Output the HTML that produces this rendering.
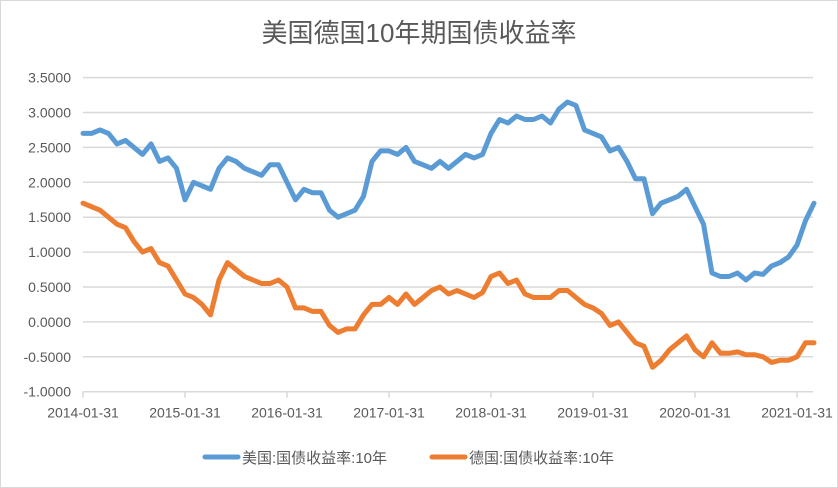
<!DOCTYPE html>
<html><head><meta charset="utf-8">
<style>
body{margin:0;background:#fff;}
svg{display:block;font-family:"Liberation Sans","Noto Sans CJK SC",sans-serif;}
</style></head><body>
<svg id="chart" width="838" height="488" viewBox="0 0 838 488">
<rect x="0.5" y="0.5" width="837" height="487" fill="#fff" stroke="#d9d9d9"/>
<text x="419" y="42" text-anchor="middle" font-size="26" fill="#595959">美国德国10年期国债收益率</text>
<g id="grid"></g><g id="yticks"></g><g id="xticks"></g><g id="series"></g>
<g>
<line x1="205" y1="457" x2="238" y2="457" stroke="#5b9bd5" stroke-width="5" stroke-linecap="round"/>
<text x="242" y="463" font-size="15" fill="#595959">美国:国债收益率:10年</text>
<line x1="432" y1="457" x2="465" y2="457" stroke="#ed7d31" stroke-width="5" stroke-linecap="round"/>
<text x="469" y="463" font-size="15" fill="#595959">德国:国债收益率:10年</text>
</g>
</svg>
<script>
const yTicks=[3.5,3.0,2.5,2.0,1.5,1.0,0.5,0.0,-0.5,-1.0];
const xTickLabels=["2014-01-31","2015-01-31","2016-01-31","2017-01-31","2018-01-31","2019-01-31","2020-01-31","2021-01-31"];
const startYear=2014;
const usYield=[2.7,2.7,2.75,2.7,2.55,2.6,2.5,2.4,2.55,2.3,2.35,2.2,
1.75,2.0,1.95,1.9,2.2,2.35,2.3,2.2,2.15,2.1,2.25,2.25,
2.0,1.75,1.9,1.85,1.85,1.6,1.5,1.55,1.6,1.8,2.3,2.45,
2.45,2.4,2.5,2.3,2.25,2.2,2.3,2.2,2.3,2.4,2.35,2.4,
2.7,2.9,2.85,2.95,2.9,2.9,2.95,2.85,3.05,3.15,3.1,2.75,
2.7,2.65,2.45,2.5,2.3,2.05,2.05,1.55,1.7,1.75,1.8,1.9,
1.65,1.4,0.7,0.65,0.65,0.7,0.6,0.7,0.68,0.8,0.85,0.93,
1.1,1.45,1.7];
const deYield=[1.7,1.65,1.6,1.5,1.4,1.35,1.15,1.0,1.05,0.85,0.8,0.6,
0.4,0.35,0.25,0.1,0.6,0.85,0.75,0.65,0.6,0.55,0.55,0.6,
0.5,0.2,0.2,0.15,0.15,-0.05,-0.15,-0.1,-0.1,0.1,0.25,0.25,
0.35,0.25,0.4,0.25,0.35,0.45,0.5,0.4,0.45,0.4,0.35,0.42,
0.65,0.7,0.55,0.6,0.4,0.35,0.35,0.35,0.45,0.45,0.35,0.25,
0.2,0.12,-0.05,0,-0.15,-0.3,-0.35,-0.65,-0.55,-0.4,-0.3,-0.2,
-0.4,-0.5,-0.3,-0.45,-0.45,-0.43,-0.47,-0.47,-0.5,-0.58,-0.55,-0.55,
-0.5,-0.3,-0.3];
const X0=83,YEARW=102,Y0=391.7,YSTEP=69.8; // px per 1.0
function xs(m){return X0+m/12*YEARW;}
function ys(v){return Y0-(v+1)*YSTEP;}
const NS="http://www.w3.org/2000/svg";
function mk(t,a){const e=document.createElementNS(NS,t);for(const k in a)e.setAttribute(k,a[k]);return e;}
const grid=document.getElementById('grid'),yt=document.getElementById('yticks'),xt=document.getElementById('xticks'),ser=document.getElementById('series');
yTicks.forEach(v=>{
 const l=mk('line',{x1:X0,x2:813,y1:ys(v),y2:ys(v),stroke:'#d9d9d9','stroke-width':1.5});
 
 
 grid.appendChild(l);
 const t=mk('text',{x:71,y:ys(v)+5,'text-anchor':'end','font-size':14,fill:'#595959'});
 t.textContent=v.toFixed(4);
 
 
 yt.appendChild(t);
});
xTickLabels.forEach((s,i)=>{
 const x=xs(i*12);
 const tk=mk('line',{x1:x,x2:x,y1:Y0,y2:Y0+6,stroke:'#d9d9d9','stroke-width':1.5});
 
 
 xt.appendChild(tk);
 const t=mk('text',{x:x,y:Y0+26,'text-anchor':'middle','font-size':14,fill:'#595959'});
 t.textContent=s;
 
 
 xt.appendChild(t);
});
function draw(arr,col,name){
 const d=arr.map((v,i)=>(i?'L':'M')+xs(i).toFixed(1)+','+ys(v).toFixed(1)).join('');
 const p=mk('path',{d:d,fill:'none',stroke:col,'stroke-width':5,'stroke-linejoin':'round','stroke-linecap':'round'});
 
 
 ser.appendChild(p);
}
draw(usYield,'#5b9bd5','us-10y-line');
draw(deYield,'#ed7d31','de-10y-line');
</script>
</body></html>
